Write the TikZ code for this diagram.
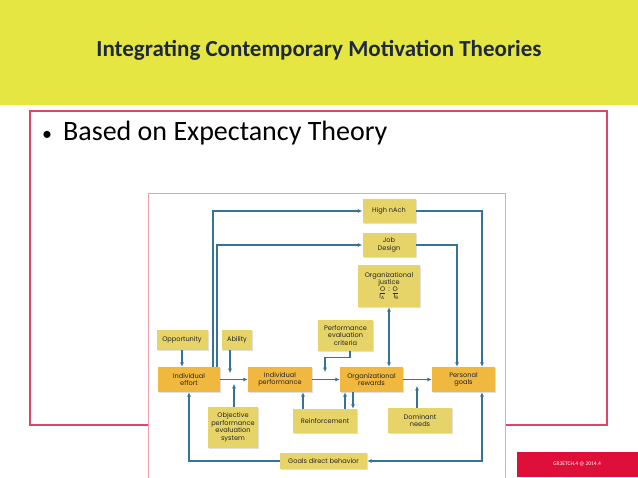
\documentclass[tikz,border=0pt]{standalone}
\usepackage{fontspec}
\setmainfont{Carlito}
\newfontfamily\diagfont{Poppins}
\usetikzlibrary{arrows.meta,shadows,calc}
\definecolor{hdr}{RGB}{230,230,66}
\definecolor{ttl}{RGB}{30,40,62}
\definecolor{frm}{RGB}{222,70,105}
\definecolor{pinkb}{RGB}{240,160,175}
\definecolor{mainbox}{RGB}{240,184,62}
\definecolor{sidebox}{RGB}{230,212,105}
\definecolor{conn}{RGB}{55,115,150}
\definecolor{foot}{RGB}{222,16,58}
\tikzset{
  box/.style={draw=none, align=center, inner sep=1pt, font=\diagfont\fontsize{6.6}{7.6}\selectfont, text=black!85,
    drop shadow={opacity=0.25, shadow xshift=1pt, shadow yshift=-1pt}},
  mbox/.style={box, fill=mainbox},
  sbox/.style={box, fill=sidebox},
  arr/.style={draw=conn, line width=1.1pt, -{Latex[length=4.5pt,width=4pt]}},
  arrboth/.style={draw=conn, line width=1.1pt, {Latex[length=4.5pt,width=4pt]}-{Latex[length=4.5pt,width=4pt]}}
}
\begin{document}
\begin{tikzpicture}[x=1pt,y=-1pt]
\useasboundingbox (0,0) rectangle (638,478);
\fill[white] (0,0) rectangle (638,478);
% header
\fill[hdr] (0,0) rectangle (638,105);
\node (title) at (319,50) {\fontsize{23}{26}\selectfont\bfseries\color{ttl}Integrating Contemporary Motivation Theories};
% red frame
\draw[frm, line width=1.4pt] (30,111) rectangle (607,425);
\node[anchor=west, inner sep=0pt] (bullet) at (42,133) {\fontsize{28}{32}\selectfont{\fontsize{20}{20}\selectfont\textbullet}\hspace{11pt}Based on Expectancy Theory};
% diagram panel
\fill[white] (148,193) rectangle (505,478);
\draw[pinkb, line width=0.6pt] (148,478) -- (148,193) -- (505,193) -- (505,478);
% footer
\fill[foot] (517,452) rectangle (638,477);
\node (footer) at (577,464.5) {\fontsize{5.5}{6}\selectfont\color{white}GR3ETCH.4 @ 2014.4};
% nodes
\node[sbox, minimum width=53, minimum height=24] (highnach) at (389,211) {High nAch};
\node[sbox, minimum width=53, minimum height=24] (jobdesign) at (389,245) {Job\\Design};
\node[sbox, minimum width=62, minimum height=42, font=\diagfont\fontsize{6.6}{7}\selectfont] (justice) at (389,286) {Organizational\\justice\\
  \underline{O}\hspace{3pt}:\hspace{3pt}\underline{O}\\I\textsubscript{A}\hspace{9pt}I\textsubscript{B}};
\node[sbox, minimum width=51, minimum height=20] (opportunity) at (182,340) {Opportunity};
\node[sbox, minimum width=30, minimum height=20] (ability) at (237,340) {Ability};
\node[sbox, minimum width=55, minimum height=31] (criteria) at (345.5,335.5) {Performance\\evaluation\\criteria};
\node[mbox, minimum width=62, minimum height=25] (effort) at (189,379.5) {Individual\\effort};
\node[mbox, minimum width=64, minimum height=25] (performance) at (280,379.5) {Individual\\performance};
\node[mbox, minimum width=63, minimum height=25] (rewards) at (371.5,379.5) {Organizational\\rewards};
\node[mbox, minimum width=63, minimum height=25] (goals) at (463.5,379.5) {Personal\\goals};
\node[sbox, minimum width=50, minimum height=41] (objective) at (233,427.5) {Objective\\performance\\evaluation\\system};
\node[sbox, minimum width=64, minimum height=24] (reinforcement) at (325,421) {Reinforcement};
\node[sbox, minimum width=64, minimum height=25] (dominant) at (420,420.5) {Dominant\\needs};
\node[sbox, minimum width=87, minimum height=16] (gdb) at (323.5,461) {Goals direct behavior};
% connectors
\draw[arr] ([xshift=24pt]effort.north) |- (highnach.west);
\draw[arr] ([xshift=28pt]effort.north) |- (jobdesign.west);
\draw[arr] (highnach.east) -| ([xshift=18.5pt]goals.north);
\draw[arr] (jobdesign.east) -| ([xshift=-6.5pt]goals.north);
\draw[arr] (opportunity.south) -- (opportunity.south |- effort.north);
\draw[arr] (effort.east) -- (performance.west);
\draw[arr] ([xshift=-7pt]ability.south) -- ++(0,23);
\draw[arr] ([xshift=1pt]objective.north) -- ++(0,-23);
\draw[arr] (performance.east) -- (rewards.west);
\draw[arr] ([xshift=4.5pt]criteria.south) -- ++(0,6) -| ++(-25,15);
\draw[arrboth] (justice.south) -- (justice.south |- rewards.north);
\draw[arr] ([xshift=-22pt]reinforcement.north) -- ([xshift=-22pt]reinforcement.north |- performance.south);
\draw[arr] ([xshift=20pt]reinforcement.north) -- ([xshift=20pt]reinforcement.north |- rewards.south);
\draw[arr] ([xshift=28pt]reinforcement.north |- rewards.south) -- ([xshift=28pt]reinforcement.north);
\draw[arr] (rewards.east) -- (goals.west);
\draw[arr] ([xshift=-3pt]dominant.north) -- ++(0,-22);
\draw[arrboth] (gdb.east) -| ([xshift=18.5pt]goals.south);
\draw[arr] (gdb.west) -| (effort.south);
\end{tikzpicture}
\end{document}
